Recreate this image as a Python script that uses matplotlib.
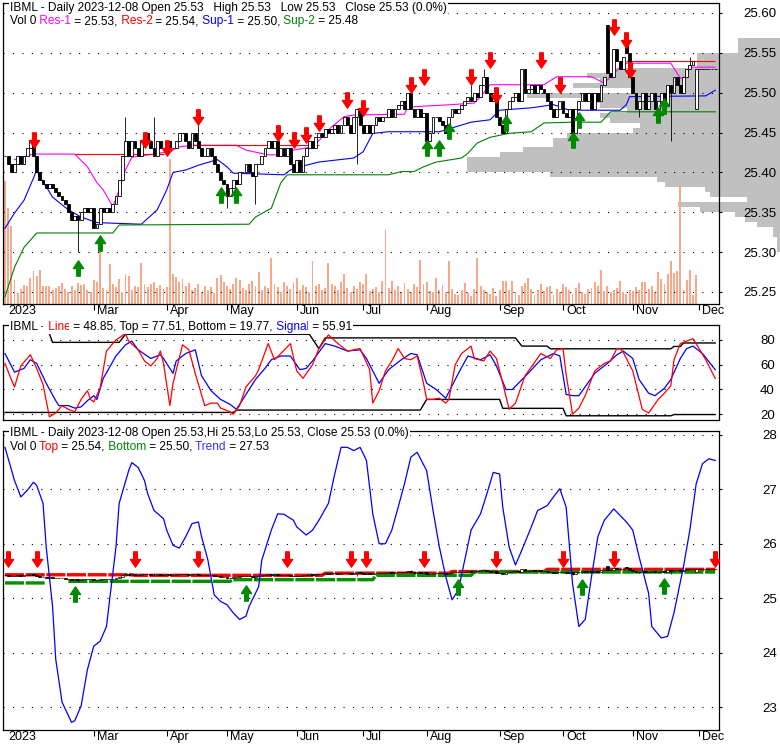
import numpy as np
import pandas as pd
import matplotlib
matplotlib.use('Agg')
import matplotlib.pyplot as plt
from matplotlib.path import Path

plt.rcParams['font.family'] = ['Liberation Sans', 'DejaVu Sans']

# ---- data -------------------------------------------------------------
holidays = ['2023-02-20', '2023-04-07', '2023-05-29', '2023-06-19',
            '2023-07-04', '2023-09-04', '2023-11-23']
dates = pd.bdate_range('2023-01-19', '2023-12-08', freq='C', holidays=holidays)

closes = [
    25.42, 25.41, 25.40, 25.41, 25.42, 25.41, 25.42, 25.43, 25.44, 25.42,
    25.40, 25.39, 25.385, 25.38, 25.385, 25.38, 25.375, 25.37, 25.365, 25.36,
    25.35, 25.34, 25.345, 25.34, 25.35, 25.355, 25.35, 25.355, 25.33, 25.335,
    25.355, 25.35, 25.355, 25.35, 25.36, 25.37, 25.39, 25.42, 25.44, 25.42,
    25.44, 25.43, 25.42, 25.44, 25.45, 25.44, 25.43, 25.42, 25.44, 25.43,
    25.43, 25.44, 25.43, 25.43, 25.44, 25.45, 25.45, 25.44, 25.43, 25.45,
    25.44, 25.43, 25.42, 25.42, 25.43, 25.42, 25.41, 25.40, 25.39, 25.385,
    25.37, 25.38, 25.39, 25.385, 25.40, 25.40, 25.41, 25.40, 25.395, 25.41,
    25.41, 25.42, 25.43, 25.44, 25.43, 25.44, 25.42, 25.43, 25.42, 25.43,
    25.41, 25.40, 25.415, 25.40, 25.42, 25.43, 25.44, 25.43, 25.445, 25.45,
    25.445, 25.455, 25.45, 25.455, 25.46, 25.45, 25.46, 25.47, 25.46, 25.45,
    25.47, 25.48, 25.46, 25.45, 25.46, 25.45, 25.46, 25.47, 25.465, 25.47,
    25.47, 25.48, 25.47, 25.48, 25.485, 25.49, 25.48, 25.50, 25.48, 25.47,
    25.48, 25.47, 25.475, 25.44, 25.45, 25.47, 25.47, 25.465, 25.46, 25.45,
    25.47, 25.48, 25.475, 25.48, 25.485, 25.49, 25.495, 25.49, 25.50, 25.495,
    25.51, 25.52, 25.50, 25.49, 25.50, 25.47, 25.46, 25.45, 25.48, 25.49,
    25.495, 25.50, 25.49, 25.53, 25.50, 25.505, 25.51, 25.50, 25.51, 25.505,
    25.50, 25.49, 25.48, 25.47, 25.48, 25.49, 25.475, 25.47, 25.48, 25.45,
    25.48, 25.49, 25.50, 25.49, 25.50, 25.48, 25.50, 25.49, 25.51, 25.52,
    25.525, 25.52, 25.555, 25.54, 25.53, 25.545, 25.55, 25.52, 25.50, 25.48,
    25.49, 25.50, 25.48, 25.49, 25.50, 25.48, 25.49, 25.50, 25.485, 25.51,
    25.50, 25.52, 25.51, 25.50, 25.52, 25.53, 25.535, 25.54, 25.53, 25.53,
    25.53, 25.53, 25.53, 25.53, 25.53,
]
open_gaps = {190: 25.585, 196: 25.57, 218: 25.48}
wick_high = {38: 25.47, 47: 25.47, 61: 25.46, 128: 25.515, 147: 25.51,
             151: 25.53, 216: 25.545}
wick_low = {23: 25.30, 70: 25.355, 79: 25.36, 111: 25.41, 179: 25.43,
            200: 25.47, 210: 25.44}

volume = [
    123, 96, 78, 24, 11, 15, 19, 18, 26, 33,
    28, 34, 18, 18, 18, 14, 16, 18, 21, 15,
    12, 18, 14, 21, 19, 20, 14, 12, 24, 22,
    58, 16, 14, 40, 20, 17, 25, 12, 30, 28,
    14, 18, 17, 41, 20, 17, 20, 22, 16, 19,
    15, 17, 145, 30, 27, 22, 25, 18, 21, 14,
    16, 20, 12, 18, 14, 17, 11, 26, 29, 22,
    18, 15, 20, 26, 24, 16, 14, 20, 23, 18,
    32, 14, 18, 16, 46, 20, 17, 12, 22, 18,
    15, 22, 26, 14, 19, 17, 12, 43, 18, 20,
    14, 16, 41, 20, 18, 14, 22, 30, 16, 12,
    18, 15, 22, 20, 30, 13, 15, 17, 12, 23,
    74, 16, 23, 14, 18, 12, 21, 15, 12, 20,
    17, 44, 20, 22, 13, 12, 26, 14, 19, 12,
    43, 15, 10, 9, 14, 21, 11, 8, 15, 46,
    18, 14, 12, 10, 16, 8, 14, 23, 23, 14,
    23, 12, 9, 18, 21, 26, 15, 9, 14, 20,
    13, 17, 18, 9, 15, 12, 20, 17, 14, 10,
    16, 21, 12, 10, 15, 16, 22, 18, 34, 13,
    18, 12, 14, 16, 23, 12, 10, 14, 13, 17,
    14, 22, 22, 15, 18, 12, 32, 25, 20, 30,
    43, 31, 33, 121, 14, 24, 34, 9, 29,
    0, 0, 0, 0, 0, 0,
]

# support / resistance lines (bar number, price)
res1_x = [3, 8, 10, 22, 26, 29, 31, 34, 36, 38, 40, 52, 55, 59, 73, 76, 83, 89, 91, 97,
          100, 103, 107, 110, 126, 127, 141, 148, 150, 153, 170, 174, 185, 189, 191,
          194, 196, 210, 213, 215, 216, 224]
res1_y = [25.416, 25.422, 25.423, 25.423, 25.407, 25.387, 25.378, 25.357, 25.378, 25.403,
          25.419, 25.426, 25.432, 25.434, 25.434, 25.428, 25.422, 25.422, 25.428, 25.432,
          25.444, 25.457, 25.470, 25.472, 25.473, 25.482, 25.485, 25.487, 25.495, 25.510,
          25.510, 25.520, 25.520, 25.512, 25.520, 25.532, 25.537, 25.537, 25.518, 25.520,
          25.532, 25.532]
res2_from = [22, 59, 196]
res2_to = [50, 99, 224]
res2_val = [25.423, 25.434, 25.54]
sup1_x = [0, 3, 6, 9, 10, 11, 13, 15, 20, 24, 29, 43, 48, 51, 53, 57, 61, 67, 70, 72, 88,
          90, 95, 99, 110, 113, 116, 121, 137, 147, 153, 156, 166, 173, 178, 194, 196,
          197, 221, 224]
sup1_y = [25.330, 25.349, 25.365, 25.393, 25.403, 25.394, 25.382, 25.369, 25.353, 25.344,
          25.337, 25.335, 25.353, 25.378, 25.400, 25.403, 25.409, 25.416, 25.407, 25.399,
          25.397, 25.403, 25.409, 25.413, 25.418, 25.426, 25.449, 25.451, 25.451, 25.463,
          25.466, 25.478, 25.481, 25.485, 25.478, 25.478, 25.485, 25.495, 25.496, 25.503]
sup2_x = [0, 3, 6, 10, 34, 36, 77, 79, 84, 87, 89, 121, 125, 129, 132, 136, 144, 146, 149,
          153, 159, 166, 170, 179, 188, 191, 224]
sup2_y = [25.244, 25.281, 25.306, 25.324, 25.324, 25.334, 25.335, 25.344, 25.355, 25.387,
          25.397, 25.397, 25.401, 25.401, 25.407, 25.413, 25.418, 25.424, 25.437, 25.444,
          25.449, 25.451, 25.462, 25.463, 25.463, 25.476, 25.476]

sell_x = [9, 44, 51, 61, 86, 91, 95, 99, 108, 113, 128, 132, 147, 153, 155, 169, 175, 192, 196, 197]
sell_y = [25.441, 25.441, 25.431, 25.470, 25.449, 25.441, 25.447, 25.462, 25.491, 25.481,
          25.510, 25.520, 25.520, 25.541, 25.497, 25.541, 25.510, 25.582, 25.566, 25.528]
buy_x = [23, 30, 68, 73, 133, 137, 140, 158, 179, 181, 206, 208]
buy_y = [25.280, 25.311, 25.372, 25.372, 25.431, 25.431, 25.452, 25.462, 25.441, 25.466,
         25.472, 25.483]

# volume-at-price profile (bins of 0.00625 from 25.30)
profile = [3, 3, 3, 7, 7, 23, 35, 45, 80, 102, 33, 70, 75, 115, 123, 230, 313, 313, 313, 280,
           257, 227, 227, 213, 147, 140, 170, 180, 153, 180, 187, 253, 147, 207, 180, 193,
           167, 83, 83, 83, 42, 42, 42]

# stochastic panel
st_x = [0, 2, 3, 5, 7, 8, 10, 12, 14, 16, 18, 20, 22, 24, 26, 27, 28, 30, 32, 35, 38, 39,
        42, 44, 46, 48, 49, 50, 52, 53, 56, 58, 60, 63, 65, 67, 68, 71, 72, 74, 76, 79, 80,
        83, 85, 87, 90, 92, 94, 97, 99, 102, 105, 108, 112, 115, 116, 118, 120, 122, 124,
        126, 128, 130, 132, 133, 135, 137, 139, 140, 142, 144, 147, 148, 151, 153, 155,
        157, 159, 161, 164, 169, 172, 174, 176, 177, 179, 181, 183, 186, 189, 191, 193,
        194, 195, 198, 201, 203, 206, 208, 210, 211, 213, 215, 217, 218, 221, 224]
st_line = [61, 48, 42, 59, 65, 68, 57, 44, 18, 21, 27, 24, 22, 32, 39, 32, 30, 41, 71, 80,
           85, 79, 72, 63, 59, 65, 71, 61, 27, 45, 76, 72, 53, 27, 29, 29, 25, 22, 20, 27,
           42, 51, 56, 77, 64, 69, 77, 55, 49, 60, 73, 84, 77, 71, 73, 56, 29, 39, 55, 63,
           73, 65, 64, 67, 45, 32, 32, 33, 29, 32, 60, 69, 75, 65, 63, 71, 65,
           45, 24, 29, 51, 69, 65, 72, 73, 52, 20, 25, 35, 55, 61, 63, 73,
           73, 70, 55, 24, 21, 32, 37, 43, 64, 77, 79, 81, 77, 64, 49]
sig_x = [0, 3, 6, 8, 10, 13, 16, 17, 20, 22, 24, 26, 28, 29, 31, 35, 38, 40, 42, 46, 49, 50,
         53, 54, 57, 60, 62, 65, 68, 71, 73, 75, 79, 82, 84, 87, 90, 93, 95, 97, 101, 104,
         108, 112, 114, 118, 121, 125, 128, 130, 133, 136, 139, 143, 146, 150, 153, 155,
         158, 160, 165, 169, 173, 175, 177, 179, 181, 186, 190, 193, 195,
         198, 200, 203, 205, 208, 210, 213, 215, 217, 220, 224]
sig_val = [69, 54, 57, 64, 61, 45, 31, 27, 27, 25, 26, 31, 35, 32, 49, 67, 76, 79, 72, 65,
           68, 65, 53, 63, 69, 72, 51, 39, 32, 28, 24, 32, 48, 57, 64, 67, 67, 56, 57, 63,
           77, 75, 71, 72, 65, 45, 56, 64, 69, 68, 45, 40, 33, 53, 67, 64, 68, 59,
           40, 40, 53, 64, 69, 67, 36, 35, 35, 53, 61, 68, 71,
           65, 48, 37, 35, 41, 48, 65, 73, 75, 69, 56]
top_x = [0, 13, 15, 36, 38, 96, 99, 101, 161, 163, 171, 172, 210, 211, 213, 214, 224]
top_val = [92, 92, 78, 78, 84.5, 84.5, 73, 81.6, 81.6, 75, 75, 72.8, 72.8, 74.7, 74.7, 77.5, 77.5]
bot_x = [0, 72, 73, 131, 133, 156, 157, 176, 177, 210, 211, 224]
bot_val = [21.5, 21.5, 23.4, 23.4, 32, 32, 24.8, 24.8, 18.8, 18.8, 19.8, 19.8]

# trend panel
trend_x = [0, 3, 5, 7, 9, 10, 12, 13, 15, 16, 18, 21, 22, 24, 26, 28, 30, 32, 33, 35, 36,
           39, 40, 42, 44, 45, 47, 50, 51, 53, 55, 57, 59, 61, 62, 64, 66, 68, 70, 72, 74,
           76, 77, 80, 81, 84, 86, 88, 91, 92, 95, 97, 99, 102, 104, 106, 108, 110, 112,
           114, 116, 118, 120, 122, 124, 126, 128, 130, 133, 135, 137, 139, 141, 143, 145,
           147, 150, 152, 154, 156, 157, 159, 161, 163, 166, 168, 171, 173, 175, 177, 179,
           181, 183, 185, 187, 189, 192, 194, 196, 198, 200, 203, 204, 207, 209, 211, 214,
           216, 218, 220, 222, 224]
trend_val = [27.77, 27.16, 26.86, 26.98, 27.13, 27.07, 26.74, 25.94, 24.85, 23.88, 23.09,
             22.72, 22.75, 23.02, 23.69, 24.12, 24.21, 24.48, 24.97, 25.94, 26.74, 27.34,
             27.49, 27.40, 27.16, 26.92, 26.61, 26.46, 26.25, 25.97, 25.92, 26.13, 26.37,
             26.40, 26.13, 25.70, 25.06, 24.94, 24.88, 24.73, 24.61, 24.67, 24.85, 25.21,
             25.70, 26.25, 26.55, 26.54, 26.43, 26.31, 26.16, 26.25, 26.43, 26.74, 27.28,
             27.77, 27.77, 27.71, 27.77, 27.53, 26.55, 26.00, 26.00, 26.25, 26.67, 27.10,
             27.59, 27.68, 27.34, 26.61, 25.94, 25.40, 24.97, 25.15, 25.70, 26.25, 26.55,
             26.92, 27.31, 27.28, 26.67, 25.94, 25.61, 25.88, 26.31, 26.61, 26.70, 26.86,
             27.01, 26.67, 25.27, 24.48, 24.61, 25.40, 26.13, 26.43, 26.64, 26.52, 26.40,
             26.25, 25.76, 25.09, 24.48, 24.27, 24.30, 24.73, 25.58, 26.25, 27.10, 27.47,
             27.56, 27.53]
band_top_x = [0, 40, 41, 100, 101, 140, 141, 170, 171, 224]
band_top = [25.43, 25.43, 25.42, 25.42, 25.46, 25.46, 25.49, 25.49, 25.53, 25.53]
band_bot_x = [0, 13, np.nan, 20, 71, 72, 116, 117, 147, 148, 224]
band_bot = [25.28, 25.28, np.nan, 25.31, 25.31, 25.34, 25.34, 25.42, 25.42, 25.48, 25.48]
sell3_x = [1, 10, 41, 61, 89, 109, 114, 132, 155, 176, 192, 224]
buy3_x = [22, 76, 143, 182, 208]
buy3_y = [25.07, 25.10, 25.20, 25.20, 25.22]

# ---- drawing ----------------------------------------------------------
W, H = 780, 745
fig = plt.figure(figsize=(W / 100, H / 100), dpi=100)


def rect(x0, y0, x1, y1):
    return [x0 / W, 1 - y1 / H, (x1 - x0) / W, (y1 - y0) / H]


n = len(closes)
x = np.arange(n)
c = np.array(closes)
o = np.array([closes[0]] + closes[:-1])
for k, v in open_gaps.items():
    o[k] = v
hi = np.maximum(o, c)
lo = np.minimum(o, c)
for k, v in wick_high.items():
    hi[k] = max(hi[k], v)
for k, v in wick_low.items():
    lo[k] = min(lo[k], v)

months = dates.month
month_pos = [i for i in range(1, len(dates)) if months[i] != months[i - 1] and months[i] >= 3]
month_names = [dates[i].strftime('%b') for i in month_pos]

XL = (-0.63, 225.2)
P1 = (25.2349, 25.6125)

dn = Path([(-0.14, 0.6), (0.14, 0.6), (0.14, 0.0), (0.4, 0.0), (0, -0.6), (-0.4, 0.0),
           (-0.14, 0.0), (-0.14, 0.6)], closed=True)
up = Path([(vx, -vy) for vx, vy in dn.vertices], closed=True)

WHITE = dict(facecolor='white', edgecolor='none', pad=0.8)
FS = 8.6


def candles(ax, width=0.9, lw=0.6):
    ax.vlines(x, lo, hi, color='black', lw=lw, zorder=4)
    rise = c >= o
    ax.bar(x[rise], (c - o)[rise], bottom=o[rise], width=width, facecolor='white',
           edgecolor='black', lw=lw, zorder=5)
    ax.bar(x[~rise], (c - o)[~rise], bottom=o[~rise], width=width, facecolor='black',
           edgecolor='black', lw=lw, zorder=5)


def frame(ax, levels, fmt, pad):
    ax.set_xlim(*XL)
    ax.set_facecolor('none')
    for s in ax.spines.values():
        s.set_linewidth(0.9)
    for lv in levels:
        ax.axhline(lv, color='black', lw=0.8, linestyle=(0, (1, 7.5)), zorder=0.5)
    ax.yaxis.tick_right()
    ax.set_yticks(levels)
    ax.set_yticklabels([fmt % v for v in levels])
    ax.tick_params(axis='y', length=2.2, width=0.8, pad=pad, labelsize=9.5)
    for lab in ax.get_yticklabels():
        lab.set_horizontalalignment('right')


def month_axis(ax):
    ax.set_xticks(month_pos)
    ax.tick_params(axis='x', direction='out', length=4.5, width=0.8, labelbottom=False)
    for pos, name in zip([0] + month_pos, ['2023'] + month_names):
        ax.annotate(name, xy=(pos, 0), xycoords=('data', 'axes fraction'),
                    xytext=(2.2, -0.6), textcoords='offset points', ha='left', va='top',
                    fontsize=9)


def title(ax, dy, parts, bg=None):
    t = ax.annotate(parts[0][0], xy=(0, 1), xycoords='axes fraction', xytext=(5, dy),
                    textcoords='offset points', ha='left', va='center', fontsize=FS,
                    color=parts[0][1], bbox=bg, zorder=10)
    for s, col in parts[1:]:
        t = ax.annotate(s, xy=(1, 0), xycoords=t, ha='left', va='bottom', fontsize=FS,
                        color=col, bbox=bg, zorder=10)


# panel 1: price
axp = fig.add_axes(rect(0, 3, 780, 304))
axp.set_zorder(0)
axp.axis('off')
axp.set_xlim(780, 0)
axp.set_ylim(*P1)
bins = 25.30 + 0.00625 * np.arange(len(profile))
axp.barh(bins, profile, height=0.00625, align='edge', color='#c0c0c0', linewidth=0)

axv = fig.add_axes(rect(3, 3, 719, 304))
axv.set_zorder(1)
axv.axis('off')
axv.set_xlim(*XL)
axv.set_ylim(0, 301)
axv.bar(x, volume, width=0.6, color='#f9a98b', linewidth=0)

ax1 = fig.add_axes(rect(3, 3, 719, 304))
ax1.set_zorder(2)
ax1.set_ylim(*P1)
frame(ax1, [25.25, 25.30, 25.35, 25.40, 25.45, 25.50, 25.55, 25.60], '%.2f', 39.5)
month_axis(ax1)
ax1.plot(res1_x, res1_y, color='#ff00ff', lw=0.8, zorder=2)
ax1.hlines(res2_val, res2_from, res2_to, color='#ff0000', lw=0.8, zorder=2.1)
ax1.plot(sup1_x, sup1_y, color='#0000ff', lw=0.8, zorder=2)
ax1.plot(sup2_x, sup2_y, color='#008000', lw=0.8, zorder=2)
candles(ax1)
ax1.plot(sell_x, sell_y, linestyle='none', marker=dn, ms=11, color='#ff0000', zorder=6)
ax1.plot(buy_x, buy_y, linestyle='none', marker=up, ms=11, color='#008a00', zorder=6)
title(ax1, -3.6, [('IBML - Daily 2023-12-08 Open 25.53   High 25.53   Low 25.53   Close 25.53 (0.0%)', 'black')], WHITE)
title(ax1, -13.3, [('Vol 0', 'black'), (' Res-1', '#ff00ff'), (' = 25.53,', 'black'),
                   (' Res-2', '#ff0000'), (' = 25.54,', 'black'), (' Sup-1', '#0000ff'),
                   (' = 25.50,', 'black'), (' Sup-2', '#008000'), (' = 25.48', 'black')])

# panel 2: stochastic
ax2 = fig.add_axes(rect(3, 325, 719, 420))
ax2.set_ylim(15.4, 92)
frame(ax2, [20, 40, 60, 80], '%d', 38)
ax2.set_xticks([])
ax2.plot(top_x, top_val, color='black', lw=1.0, zorder=2)
ax2.plot(bot_x, bot_val, color='black', lw=1.0, zorder=2)
ax2.plot(sig_x, sig_val, color='#0000ff', lw=0.9, zorder=3)
ax2.plot(st_x, st_line, color='#ff0000', lw=0.9, zorder=4)
title(ax2, -1.4, [('IBML -', 'black'), (' Line', '#ff0000'),
                  (' = 48.85, Top = 77.51, Bottom = 19.77,', 'black'),
                  (' Signal', '#0000ff'), (' = 55.91', 'black')], WHITE)

# panel 3: trend
ax3 = fig.add_axes(rect(3, 431, 719, 730))
ax3.set_ylim(22.58, 28.07)
frame(ax3, [23, 24, 25, 26, 27, 28], '%d', 39.5)
month_axis(ax3)
ax3.plot(band_top_x, band_top, color='#ff0000', lw=2.4, solid_capstyle='butt',
         linestyle=(0, (5.7, 0.5)), zorder=2)
ax3.plot(band_bot_x, band_bot, color='#009000', lw=2.4, solid_capstyle='butt',
         linestyle=(0, (5.7, 0.5)), zorder=2)
candles(ax3, width=0.9, lw=0.5)
ax3.plot(trend_x, trend_val, color='#0000ff', lw=0.9, zorder=6)
ax3.plot(sell3_x, [25.72] * len(sell3_x), linestyle='none', marker=dn, ms=11,
         color='#ff0000', zorder=7)
ax3.plot(buy3_x, buy3_y, linestyle='none', marker=up, ms=11, color='#008a00', zorder=7)
title(ax3, -1.4, [('IBML - Daily 2023-12-08 Open 25.53,Hi 25.53,Lo 25.53, Close 25.53 (0.0%)', 'black')], WHITE)
title(ax3, -11.5, [('Vol 0', 'black'), (' Top', '#ff0000'), (' = 25.54,', 'black'),
                   (' Bottom', '#008000'), (' = 25.50,', 'black'), (' Trend', '#3333ff'),
                   (' = 27.53', 'black')])

fig.savefig('out.png', dpi=100)
